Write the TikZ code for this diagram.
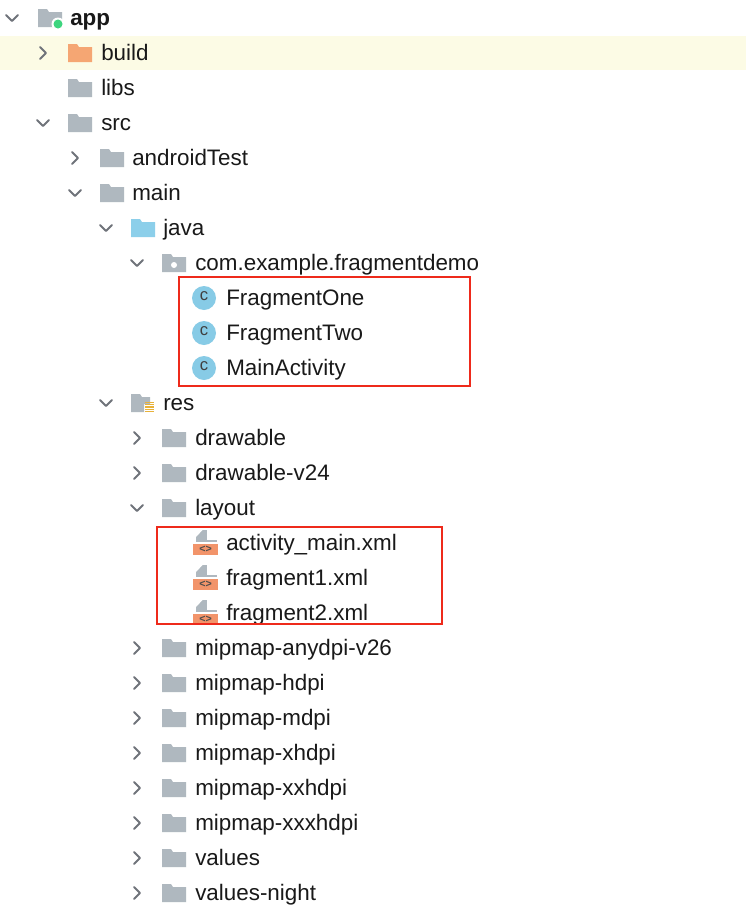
\documentclass[tikz,border=0pt]{standalone}
\usepackage{fontspec}
\setmainfont{Liberation Sans}
\definecolor{fgray}{HTML}{AFB8BF}
\definecolor{fjava}{HTML}{8CCFEA}
\definecolor{forange}{HTML}{F5A673}
\definecolor{chev}{HTML}{6F737A}
\definecolor{hl}{HTML}{FCFBE5}
\definecolor{redbox}{HTML}{EE2A1B}
\definecolor{cblue}{HTML}{87CBE6}
\definecolor{xorange}{HTML}{F2946A}
\definecolor{gdot}{HTML}{3DD57E}
\definecolor{resy}{HTML}{E8B23A}
\newcommand{\myfolder}[3]{\fill[#3] (#1,#2-9) -- (#1+9,#2-9) -- (#1+11,#2-6) -- (#1+24,#2-6) -- (#1+24,#2+9) -- (#1,#2+9) -- cycle;}
\newcommand{\chr}[2]{\draw[chev,line width=1.4pt,line cap=round,line join=round] (#1-3,#2-6) -- (#1+3,#2) -- (#1-3,#2+6);}
\newcommand{\chd}[2]{\draw[chev,line width=1.4pt,line cap=round,line join=round] (#1-6,#2-3) -- (#1,#2+3) -- (#1+6,#2-3);}
\newcommand{\cls}[2]{\fill[cblue] (#1,#2) circle (12); \node[font=\fontsize{12.5}{12.5}\selectfont,text=black!75] at (#1,#2-1.5) {c};}
\newcommand{\xmlic}[2]{\fill[fgray] (#1+3,#2-13) -- (#1+14,#2-13) -- (#1+14,#2-1) -- (#1+3,#2-1) -- cycle;
 \fill[white] (#1+3,#2-13.5) -- (#1+10,#2-13.5) -- (#1+3,#2-6) -- cycle;
 \fill[fgray] (#1+14,#2-3) rectangle (#1+24,#2-1);
 \fill[xorange] (#1,#2+0.5) rectangle (#1+25,#2+12);
 \node[font=\fontsize{8}{8}\selectfont\bfseries,text=black!70,inner sep=0] at (#1+12.5,#2+6.5) {<>};}
\tikzset{lbl/.style={anchor=base west,inner sep=0,font=\fontsize{16.8}{19}\selectfont,text=black!90}}
\begin{document}
\begin{tikzpicture}[x=0.75pt,y=-0.75pt]
\useasboundingbox (0,0) rectangle (746,921);
\fill[white] (0,0) rectangle (746,921);
\fill[hl] (0,36) rectangle (746,70);
% app
\chd{12}{18}
\myfolder{38}{18}{fgray}
\fill[white] (58,24) circle (6.5); \fill[gdot] (58,24) circle (4.5);
\node[lbl,font=\fontsize{16.8}{19}\selectfont\bfseries] (app) at (70,25) {app};
\chr{43}{53} \myfolder{68}{53}{forange} \node[lbl] (build) at (101,60.5) {build};
\myfolder{68}{88}{fgray} \node[lbl] (libs) at (101,95.5) {libs};
\chd{43}{123} \myfolder{68}{123}{fgray} \node[lbl] (src) at (101,130.5) {src};
\chr{75}{158} \myfolder{100}{158}{fgray} \node[lbl] (at) at (132,165.5) {androidTest};
\chd{75}{193} \myfolder{100}{193}{fgray} \node[lbl] (main) at (132,200.5) {main};
\chd{106}{228} \myfolder{131}{228}{fjava} \node[lbl] (java) at (163,235.5) {java};
\chd{137}{263} \myfolder{162}{263}{fgray} \fill[white] (174,265) circle (3); \node[lbl] (pkg) at (195,270.5) {com.example.fragmentdemo};
\cls{204}{298} \node[lbl] (f1) at (226,305.5) {FragmentOne};
\cls{204}{333} \node[lbl] (f2) at (226,340.5) {FragmentTwo};
\cls{204}{368} \node[lbl] (ma) at (226,375.5) {MainActivity};
\chd{106}{403}
\fill[fgray] (131,394) -- (140,394) -- (142,397) -- (150,397) -- (150,404) -- (144,404) -- (144,412) -- (131,412) -- cycle;
\foreach \k in {0,1,2,3,4} {\fill[resy] (145,402+2.2*\k) rectangle (154,403.2+2.2*\k);}
\node[lbl] (res) at (163,410.5) {res};
\chr{137}{438} \myfolder{162}{438}{fgray} \node[lbl] (d1) at (195,445.5) {drawable};
\chr{137}{473} \myfolder{162}{473}{fgray} \node[lbl] (d2) at (195,480.5) {drawable-v24};
\chd{137}{508} \myfolder{162}{508}{fgray} \node[lbl] (lay) at (195,515.5) {layout};
\xmlic{193}{543} \node[lbl] (x1) at (226,550.5) {activity\_main.xml};
\xmlic{193}{578} \node[lbl] (x2) at (226,585.5) {fragment1.xml};
\xmlic{193}{613} \node[lbl] (x3) at (226,620.5) {fragment2.xml};
\chr{137}{648} \myfolder{162}{648}{fgray} \node[lbl] (m1) at (195,655.5) {mipmap-anydpi-v26};
\chr{137}{683} \myfolder{162}{683}{fgray} \node[lbl] (m2) at (195,690.5) {mipmap-hdpi};
\chr{137}{718} \myfolder{162}{718}{fgray} \node[lbl] (m3) at (195,725.5) {mipmap-mdpi};
\chr{137}{753} \myfolder{162}{753}{fgray} \node[lbl] (m4) at (195,760.5) {mipmap-xhdpi};
\chr{137}{788} \myfolder{162}{788}{fgray} \node[lbl] (m5) at (195,795.5) {mipmap-xxhdpi};
\chr{137}{823} \myfolder{162}{823}{fgray} \node[lbl] (m6) at (195,830.5) {mipmap-xxxhdpi};
\chr{137}{858} \myfolder{162}{858}{fgray} \node[lbl] (v1) at (195,865.5) {values};
\chr{137}{893} \myfolder{162}{893}{fgray} \node[lbl] (v2) at (195,900.5) {values-night};
% red boxes
\draw[redbox,line width=1.6pt] (179,277) rectangle (470,386);
\draw[redbox,line width=1.6pt] (157,527) rectangle (442,624);
\end{tikzpicture}
\end{document}
